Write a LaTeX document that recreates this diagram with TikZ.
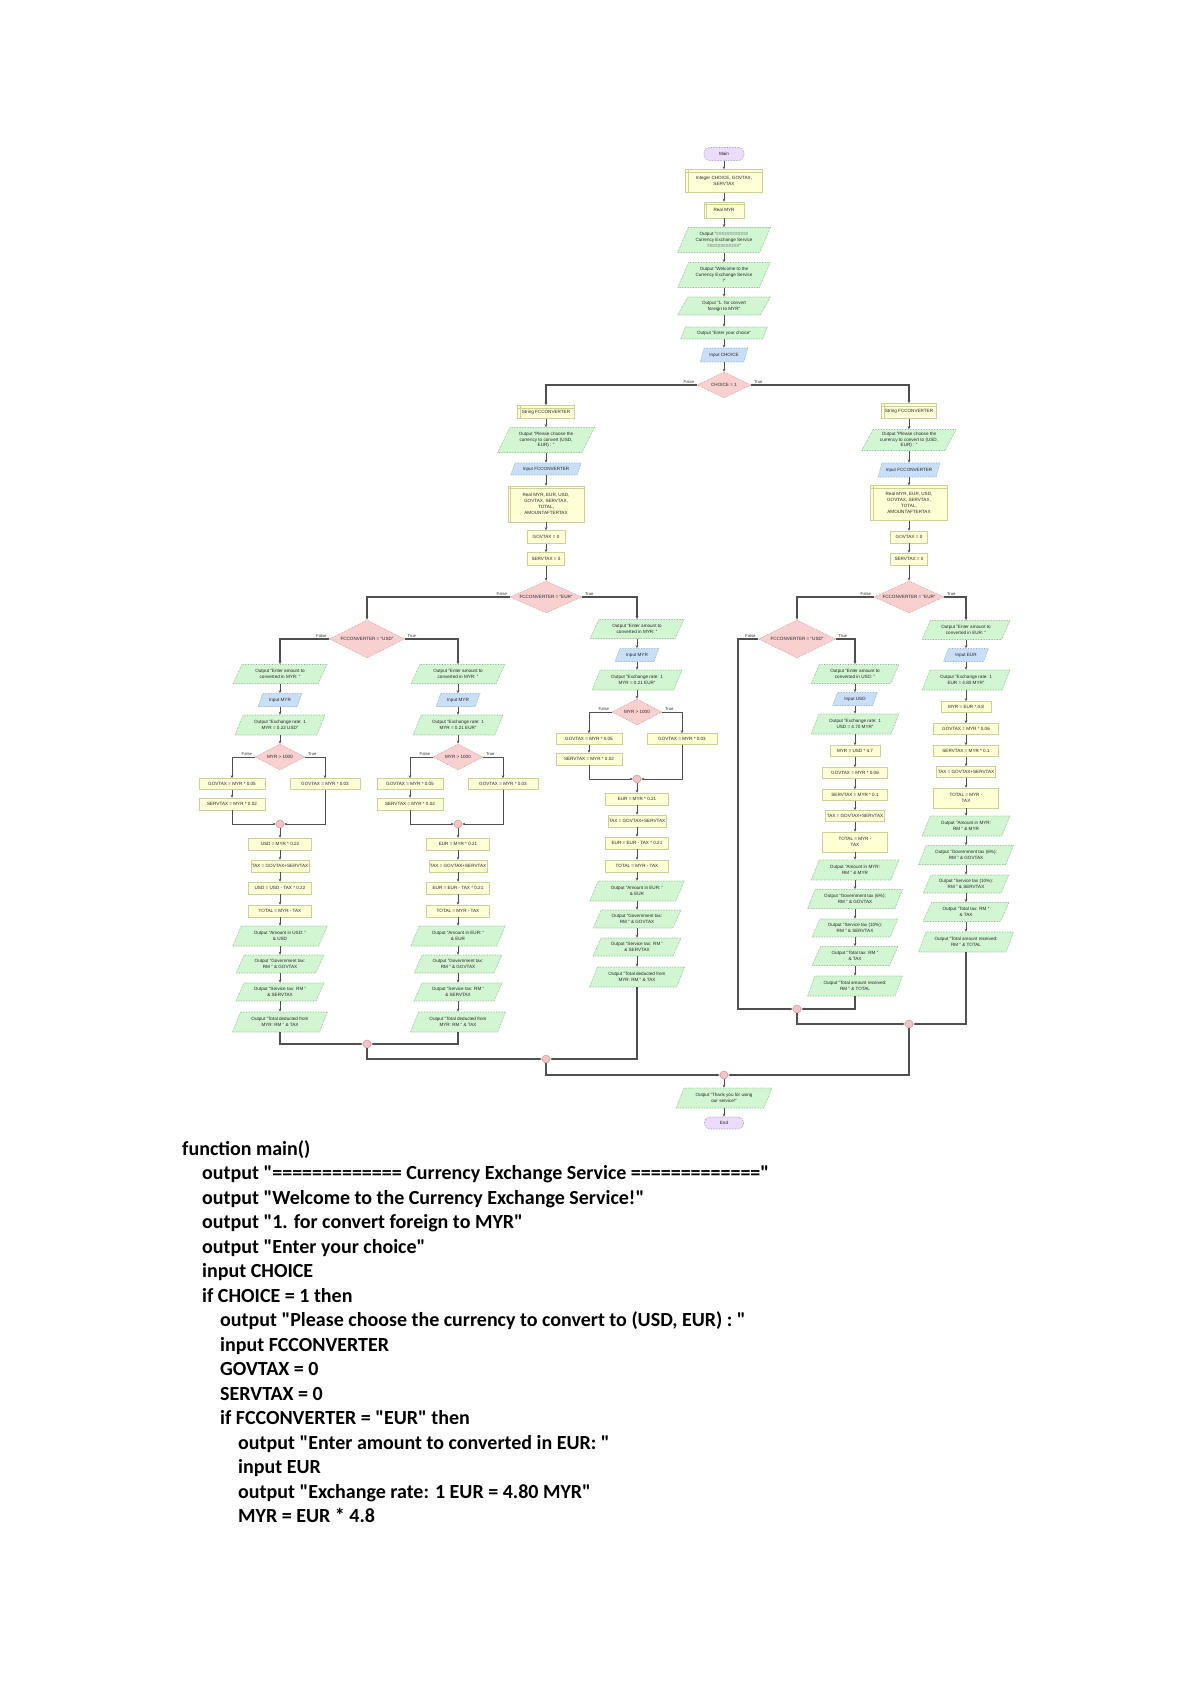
\documentclass[tikz,border=0pt]{standalone}
\usepackage{fontspec}
\setmainfont{Liberation Sans}
\newfontfamily\codefont{Carlito}
\usetikzlibrary{shapes.geometric,arrows.meta,calc}
\definecolor{procfill}{HTML}{FFFFD6}
\definecolor{procdraw}{HTML}{CFCF9A}
\definecolor{iofill}{HTML}{D2F5D2}
\definecolor{iodraw}{HTML}{7FB37F}
\definecolor{infill}{HTML}{C8DFF7}
\definecolor{indraw}{HTML}{86A9D0}
\definecolor{decfill}{HTML}{F8D0D0}
\definecolor{decdraw}{HTML}{D69494}
\definecolor{termfill}{HTML}{EADCFA}
\definecolor{termdraw}{HTML}{A88CD0}
\definecolor{mergefill}{HTML}{F5C4C4}
\definecolor{linec}{HTML}{505050}
\tikzset{
  base/.style={font=\fontsize{4.6}{5.8}\selectfont, align=center, inner sep=1pt, text=black!85},
  proc/.style={base, rectangle, fill=procfill, draw=procdraw, line width=0.5pt},
  decl/.style={proc, path picture={
      \draw[procdraw, line width=0.5pt] ([xshift=2.5pt]path picture bounding box.north west) -- ([xshift=2.5pt]path picture bounding box.south west);
      \draw[procdraw, line width=0.5pt] ([yshift=-2.5pt]path picture bounding box.north west) -- ([yshift=-2.5pt]path picture bounding box.north east);}},
  io/.style={base, trapezium, trapezium left angle=62, trapezium right angle=118, trapezium stretches=true, fill=iofill, draw=iodraw, densely dotted, line width=0.6pt},
  inp/.style={io, fill=infill, draw=indraw},
  dec/.style={base, diamond, aspect=2.4, inner sep=0pt, fill=decfill, draw=decdraw, densely dotted, line width=0.6pt},
  term/.style={base, rectangle, rounded corners=5pt, fill=termfill, draw=termdraw, densely dotted, line width=0.6pt},
  merge/.style={circle, minimum size=8pt, inner sep=0pt, fill=mergefill, draw=decdraw, line width=0.5pt},
  flow/.style={draw=linec, line width=0.9pt, -{Stealth[length=3pt,width=2.6pt]}},
  branch/.style={flow, line width=1.4pt},
  lbl/.style={font=\fontsize{4.2}{5}\selectfont, inner sep=0.5pt, text=black!80},
  code/.style={font={\codefont\bfseries\fontsize{20}{24}\selectfont}, anchor=base west, inner sep=0pt}
}
\newcommand\chain[1]{\foreach \a/\b in {#1} {\draw[flow] (\a.south) -- (\a.south |- \b.north);}}
\newcommand\declbl[1]{%
  \node[lbl, anchor=south east] at ([xshift=-2pt,yshift=0.5pt]#1.west) {False};
  \node[lbl, anchor=south west] at ([xshift=2pt,yshift=0.5pt]#1.east) {True};}
% left-type column: #1 prefix, #2 x, #3 dy, #4 currency, #5 rate
\newcommand\mklcol[5]{%
  \node[io, minimum width=94pt, minimum height=19pt] (#1a1) at (#2,629+#3) {Output "Enter amount to\\converted in MYR: "};
  \node[inp, minimum width=44pt, minimum height=13pt] (#1a2) at (#2,655+#3) {Input MYR};
  \node[io, minimum width=90pt, minimum height=20pt] (#1a3) at (#2,680+#3) {Output "Exchange rate: 1\\MYR = #5 #4"};
  \node[dec, minimum width=50pt, minimum height=26pt] (#1d) at (#2,712+#3) {MYR > 1000};
  \node[proc, minimum width=66pt, minimum height=11pt] (#1l1) at (#2-48,739+#3) {GOVTAX = MYR * 0.05};
  \node[proc, minimum width=66pt, minimum height=12pt] (#1l2) at (#2-48,759+#3) {SERVTAX = MYR * 0.02};
  \node[proc, minimum width=70pt, minimum height=11pt] (#1r1) at (#2+45,739+#3) {GOVTAX = MYR * 0.03};
  \node[merge] (#1m) at (#2,779+#3) {};
  \node[proc, minimum width=63pt, minimum height=12pt] (#1b1) at (#2,799+#3) {#4 = MYR * #5};
  \node[proc, minimum width=58pt, minimum height=12pt] (#1b2) at (#2,821+#3) {TAX = GOVTAX+SERVTAX};
  \node[proc, minimum width=63pt, minimum height=12pt] (#1b3) at (#2,843+#3) {#4 = #4 - TAX * #5};
  \node[proc, minimum width=63pt, minimum height=12pt] (#1b4) at (#2,866+#3) {TOTAL = MYR - TAX};
  \node[io, minimum width=95pt, minimum height=20pt] (#1c1) at (#2,891+#3) {Output "Amount in #4: "\\\& #4};
  \node[io, minimum width=88pt, minimum height=18pt] (#1c2) at (#2,919+#3) {Output "Government tax:\\RM " \& GOVTAX};
  \node[io, minimum width=88pt, minimum height=18pt] (#1c3) at (#2,947+#3) {Output "Service tax: RM "\\\& SERVTAX};
  \node[io, minimum width=95pt, minimum height=20pt] (#1c4) at (#2,977+#3) {Output "Total deducted from\\MYR: RM " \& TAX};
  \chain{#1a1/#1a2,#1a2/#1a3,#1a3/#1d,#1l1/#1l2,#1m/#1b1,#1b1/#1b2,#1b2/#1b3,#1b3/#1b4,#1b4/#1c1,#1c1/#1c2,#1c2/#1c3,#1c3/#1c4}
  \draw[flow] (#1d.west) -| (#1l1);
  \draw[flow] (#1d.east) -| (#1r1);
  \draw[flow] (#1l2.south) |- (#1m);
  \draw[flow] (#1r1.south) |- (#1m);
  \declbl{#1d}}
% right-type column: #1 prefix, #2 x, #3 dy, #4 currency, #5 rate text, #6 rate
\newcommand\mkrcol[6]{%
  \node[io, minimum width=88pt, minimum height=19pt] (#1a1) at (#2,630+#3) {Output "Enter amount to\\converted in #4: "};
  \node[inp, minimum width=45pt, minimum height=13pt] (#1a2) at (#2,655+#3) {Input #4};
  \node[io, minimum width=88pt, minimum height=20pt] (#1a3) at (#2,680+#3) {Output "Exchange rate: 1\\#4 = #5 MYR"};
  \node[proc, minimum width=50pt, minimum height=11pt] (#1b1) at (#2,707+#3) {MYR = #4 * #6};
  \node[proc, minimum width=65pt, minimum height=11pt] (#1b2) at (#2,729+#3) {GOVTAX = MYR * 0.06};
  \node[proc, minimum width=65pt, minimum height=11pt] (#1b3) at (#2,751+#3) {SERVTAX = MYR * 0.1};
  \node[proc, minimum width=59pt, minimum height=11pt] (#1b4) at (#2,772+#3) {TAX = GOVTAX+SERVTAX};
  \node[proc, minimum width=65pt, minimum height=20pt] (#1b5) at (#2,798+#3) {TOTAL = MYR -\\TAX};
  \node[io, minimum width=88pt, minimum height=20pt] (#1c1) at (#2,826+#3) {Output "Amount in MYR:\\RM " \& MYR};
  \node[io, minimum width=95pt, minimum height=19pt] (#1c2) at (#2,855+#3) {Output "Government tax (6\%):\\RM " \& GOVTAX};
  \node[io, minimum width=86pt, minimum height=18pt] (#1c3) at (#2,884+#3) {Output "Service tax (10\%):\\RM " \& SERVTAX};
  \node[io, minimum width=86pt, minimum height=19pt] (#1c4) at (#2,912+#3) {Output "Total tax: RM "\\\& TAX};
  \node[io, minimum width=95pt, minimum height=20pt] (#1c5) at (#2,942+#3) {Output "Total amount received:\\RM " \& TOTAL};
  \chain{#1a1/#1a2,#1a2/#1a3,#1a3/#1b1,#1b1/#1b2,#1b2/#1b3,#1b3/#1b4,#1b4/#1b5,#1b5/#1c1,#1c1/#1c2,#1c2/#1c3,#1c3/#1c4,#1c4/#1c5}}
\begin{document}
\begin{tikzpicture}[x=1pt,y=-1pt]
\fill[white] (0,0) rectangle (1200,1696);
\path[use as bounding box] (0,0) rectangle (1200,1696);
% ---- top column
\node[term, minimum width=40pt, minimum height=13pt] (T1) at (724,154) {Main};
\node[decl, minimum width=77pt, minimum height=23pt] (T2) at (724,181) {Integer CHOICE, GOVTAX,\\SERVTAX};
\node[decl, minimum width=40pt, minimum height=16pt] (T3) at (724,210) {Real MYR};
\node[io, minimum width=93pt, minimum height=25pt] (P1) at (724,240) {Output "============\\Currency Exchange Service\\============"};
\node[io, minimum width=93pt, minimum height=25pt] (P2) at (724,275) {Output "Welcome to the\\Currency Exchange Service\\!"};
\node[io, minimum width=93pt, minimum height=18pt] (P3) at (724,306) {Output "1. for convert\\foreign to MYR"};
\node[io, minimum width=87pt, minimum height=12pt] (P4) at (724,333) {Output "Enter your choice"};
\node[inp, minimum width=48pt, minimum height=14pt] (I1) at (724,355) {Input CHOICE};
\node[dec, minimum width=54pt, minimum height=26pt] (D1) at (724,385) {CHOICE = 1};
\chain{T1/T2,T2/T3,T3/P1,P1/P2,P2/P3,P3/P4,P4/I1,I1/D1}
\declbl{D1}
% ---- left branch
\node[decl, minimum width=57pt, minimum height=13pt] (L1) at (546,412) {String FCCONVERTER};
\node[io, minimum width=97pt, minimum height=25pt] (L2) at (546,440) {Output "Please choose the\\currency to convert (USD,\\EUR) : "};
\node[inp, minimum width=71pt, minimum height=12pt] (L3) at (546,469) {Input FCCONVERTER};
\node[decl, minimum width=76pt, minimum height=36pt] (L4) at (546,504) {Real MYR, EUR, USD,\\GOVTAX, SERVTAX,\\TOTAL,\\AMOUNTAFTERTAX};
\node[proc, minimum width=38pt, minimum height=13pt] (L5) at (546,537) {GOVTAX = 0};
\node[proc, minimum width=37pt, minimum height=13pt] (L6) at (546,559) {SERVTAX = 0};
\node[dec, minimum width=72pt, minimum height=32pt] (LD) at (546,597) {FCCONVERTER = "EUR"};
\chain{L1/L2,L2/L3,L3/L4,L4/L5,L5/L6,L6/LD}
\declbl{LD}
\node[dec, minimum width=75pt, minimum height=38pt] (LLD) at (367,639) {FCCONVERTER = "USD"};
\declbl{LLD}
\mklcol{LR}{637}{0}{EUR}{0.21}
\mklcol{A}{280}{45}{USD}{0.22}
\mklcol{B}{458}{45}{EUR}{0.21}
\draw[branch] (D1.west) -| (L1);
\draw[branch] (LD.west) -| (LLD);
\draw[branch] (LD.east) -| (LRa1);
\draw[branch] (LLD.west) -| (Aa1);
\draw[branch] (LLD.east) -| (Ba1);
% ---- right branch
\node[decl, minimum width=55pt, minimum height=15pt] (R1) at (909,411) {String FCCONVERTER};
\node[io, minimum width=95pt, minimum height=21pt] (R2) at (909,440) {Output "Please choose the\\currency to convert to (USD,\\EUR) : "};
\node[inp, minimum width=62pt, minimum height=14pt] (R3) at (909,470) {Input FCCONVERTER};
\node[decl, minimum width=77pt, minimum height=35pt] (R4) at (909,503) {Real MYR, EUR, USD,\\GOVTAX, SERVTAX,\\TOTAL,\\AMOUNTAFTERTAX};
\node[proc, minimum width=37pt, minimum height=12pt] (R5) at (909,537) {GOVTAX = 0};
\node[proc, minimum width=37pt, minimum height=12pt] (R6) at (909,559) {SERVTAX = 0};
\node[dec, minimum width=70pt, minimum height=32pt] (RD) at (909,597) {FCCONVERTER = "EUR"};
\chain{R1/R2,R2/R3,R3/R4,R4/R5,R5/R6,R6/RD}
\declbl{RD}
\node[dec, minimum width=77pt, minimum height=38pt] (RRD) at (797,639) {FCCONVERTER = "USD"};
\declbl{RRD}
\mkrcol{RT}{966}{0}{EUR}{4.80}{4.8}
\mkrcol{RU}{855}{44}{USD}{4.70}{4.7}
\draw[branch] (D1.east) -| (R1);
\draw[branch] (RD.west) -| (RRD);
\draw[branch] (RD.east) -| (RTa1);
\draw[branch] (RRD.east) -| (RUa1);
% ---- merges
\node[merge] (CLL) at (367,1044) {};
\node[merge] (CL) at (546,1059) {};
\node[merge] (CRR) at (797,1009) {};
\node[merge] (CR) at (909,1024) {};
\node[merge] (CM) at (724,1075) {};
\coordinate (RRF) at (738,1009);
\draw[branch] (Ac4.south) |- (CLL);
\draw[branch] (Bc4.south) |- (CLL);
\draw[branch] (CLL) |- (CL);
\draw[branch] (LRc4.south) |- (CL);
\draw[branch] (CL) |- (CM);
\draw[branch] (RRD.west) -| (RRF) -- (CRR);
\draw[branch] (RUc5.south) |- (CRR);
\draw[branch] (CRR) |- (CR);
\draw[branch] (RTc5.south) |- (CR);
\draw[branch] (CR) |- (CM);
\node[io, minimum width=96pt, minimum height=20pt] (E1) at (724,1098) {Output "Thank you for using\\our service!"};
\node[term, minimum width=39pt, minimum height=12pt] (E2) at (724,1123) {End};
\chain{CM/E1,E1/E2}
% ---- pseudocode
\node[code] (c0) at (182,1155) {function main()};
\node[code] (c1) at (202,1179.5) {output "============= Currency Exchange Service ============="};
\node[code] (c2) at (202,1204) {output "Welcome to the Currency Exchange Service!"};
\node[code] (c3) at (202,1228.5) {output "1. for convert foreign to MYR"};
\node[code] (c4) at (202,1253) {output "Enter your choice"};
\node[code] (c5) at (202,1277.5) {input CHOICE};
\node[code] (c6) at (202,1302) {if CHOICE = 1 then};
\node[code] (c7) at (220,1326.5) {output "Please choose the currency to convert to (USD, EUR) : "};
\node[code] (c8) at (220,1351) {input FCCONVERTER};
\node[code] (c9) at (220,1375.5) {GOVTAX = 0};
\node[code] (c10) at (220,1400) {SERVTAX = 0};
\node[code] (c11) at (220,1424.5) {if FCCONVERTER = "EUR" then};
\node[code] (c12) at (238,1449) {output "Enter amount to converted in EUR: "};
\node[code] (c13) at (238,1473.5) {input EUR};
\node[code] (c14) at (238,1498) {output "Exchange rate: 1 EUR = 4.80 MYR"};
\node[code] (c15) at (238,1522.5) {MYR = EUR * 4.8};
\end{tikzpicture}
\end{document}
